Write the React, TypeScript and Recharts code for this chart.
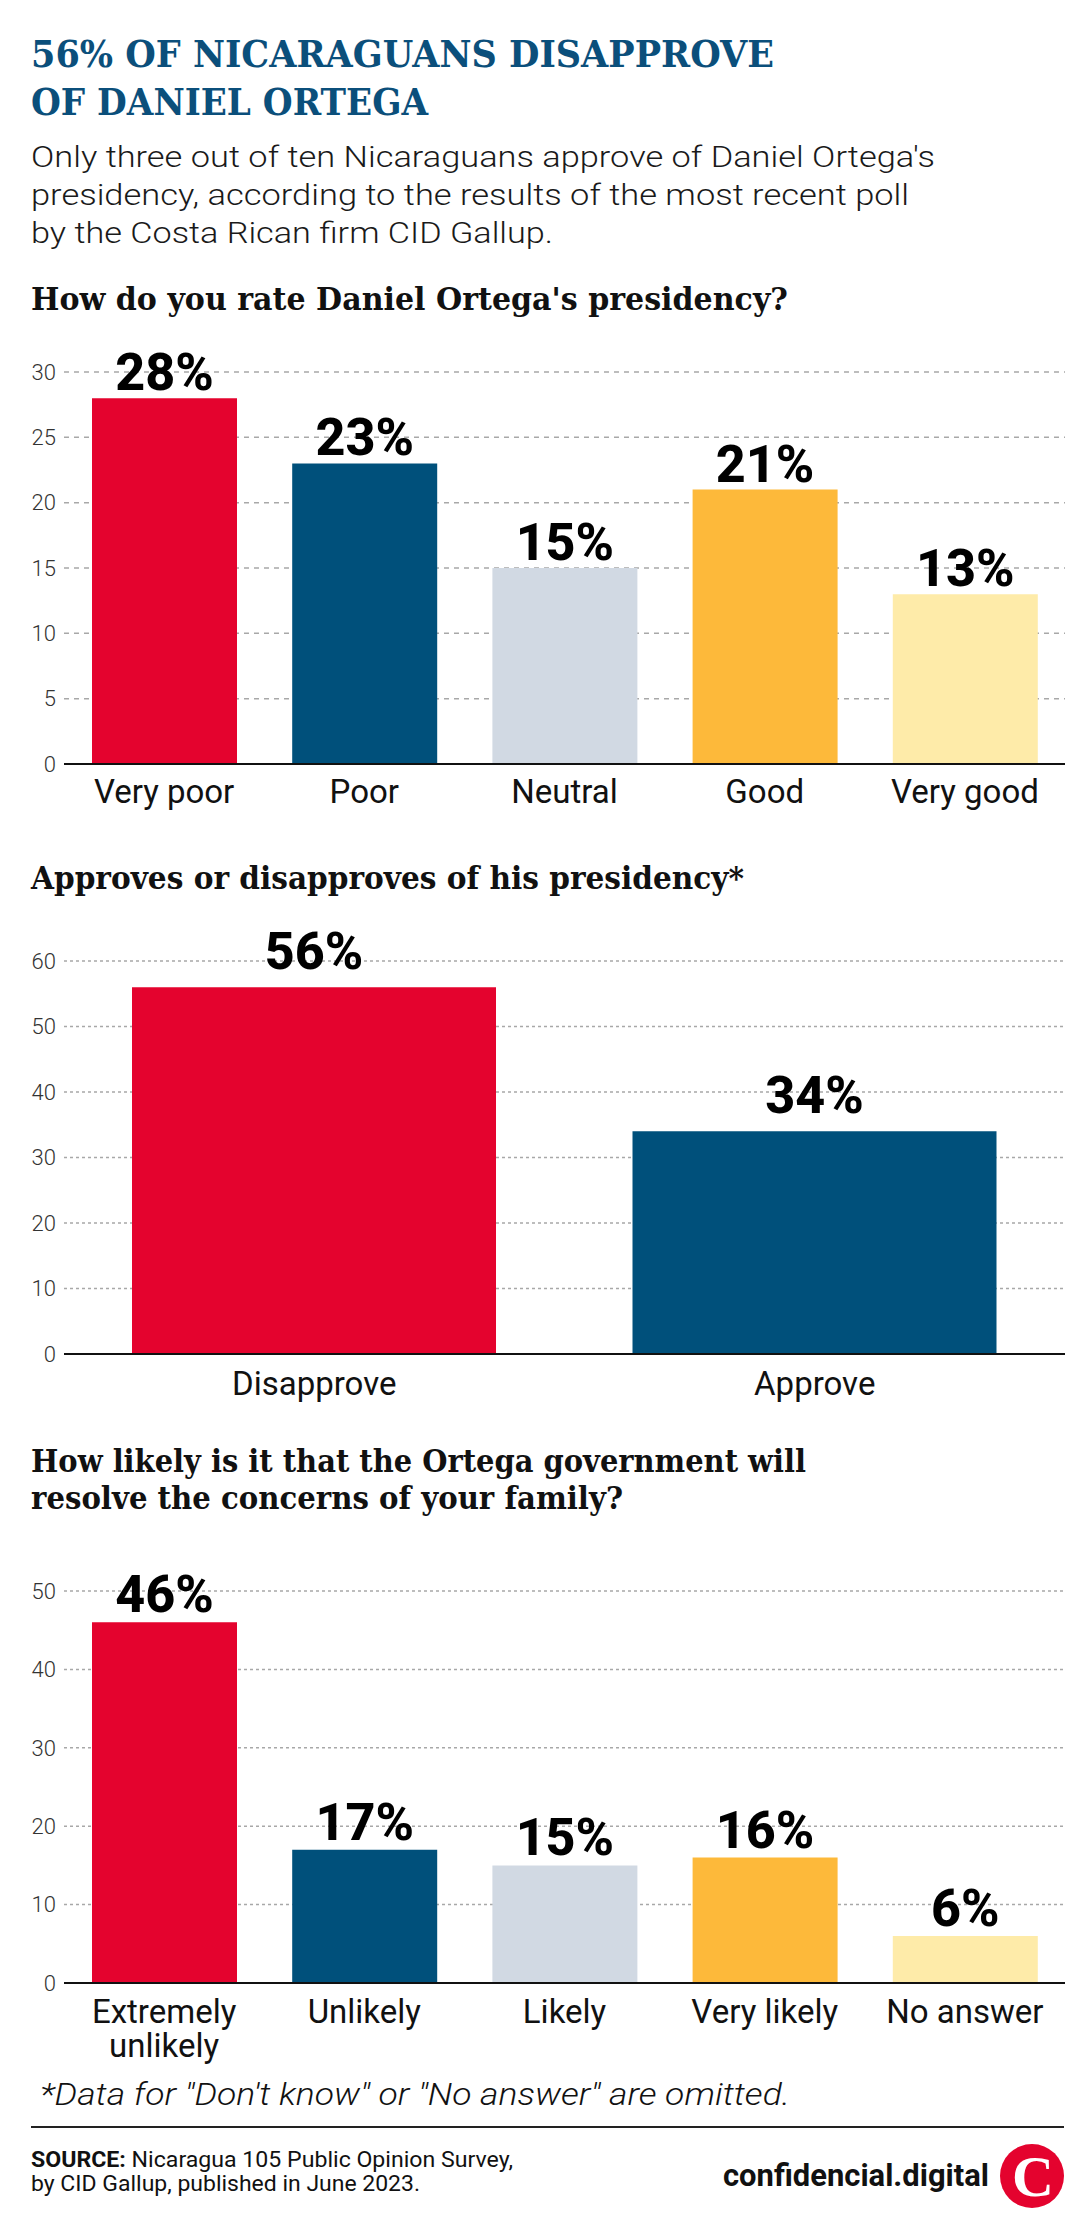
import { BarChart, Bar, XAxis, YAxis, CartesianGrid, Cell, LabelList } from 'recharts'

const RED = '#e4032e'
const NAVY = '#00507b'
const GREY = '#d1d9e3'
const ORANGE = '#fdb93a'
const PALE = '#feeba9'

// chart 1: How do you rate Daniel Ortega's presidency?
const rateCategories = ['Very poor', 'Poor', 'Neutral', 'Good', 'Very good']
const rateValues = [28, 23, 15, 21, 13]
const rateColors = [RED, NAVY, GREY, ORANGE, PALE]
const rateTicks = [0, 5, 10, 15, 20, 25, 30]

// chart 2: approves or disapproves
const approveCategories = ['Disapprove', 'Approve']
const approveValues = [56, 34]
const approveColors = [RED, NAVY]
const approveTicks = [0, 10, 20, 30, 40, 50, 60]

// chart 3: likelihood of resolving family concerns
const likelyCategories = ['Extremely unlikely', 'Unlikely', 'Likely', 'Very likely', 'No answer']
const likelyValues = [46, 17, 15, 16, 6]
const likelyColors = [RED, NAVY, GREY, ORANGE, PALE]
const likelyTicks = [0, 10, 20, 30, 40, 50]

const SANS = 'Roboto, "Noto Sans", sans-serif'
const SERIF = '"DejaVu Serif", serif'

function XTick(props: any) {
  const { x, y, payload, dy } = props
  const label: string = payload.value
  const lines = label.length > 12 ? label.split(' ') : [label]
  return (
    <text x={x} y={y} textAnchor="middle" fontFamily={SANS} fontSize={33} fill="#111">
      {lines.map((l, i) => (
        <tspan key={i} x={x} dy={i === 0 ? dy : 34}>
          {l}
        </tspan>
      ))}
    </text>
  )
}

function PctLabel(props: any) {
  const { x, y, width, value, gap } = props
  return (
    <text
      x={x + width / 2}
      y={y - gap}
      textAnchor="middle"
      fontFamily={SANS}
      fontWeight={800}
      fontSize={52}
      fill="#000"
    >
      {value}%
    </text>
  )
}

type PanelProps = {
  top: number
  height: number
  marginTop: number
  xHeight: number
  categories: string[]
  values: number[]
  colors: string[]
  ticks: number[]
  barSize: number
  dash: string
  labelGap: number
  tickDy: number
}

function Panel(p: PanelProps) {
  const data = p.categories.map((name, i) => ({ name, value: p.values[i] }))
  const max = p.ticks[p.ticks.length - 1]
  return (
    <div style={{ position: 'absolute', left: 0, top: p.top }}>
      <BarChart
        width={1080}
        height={p.height}
        data={data}
        margin={{ top: p.marginTop, right: 15, left: 0, bottom: 0 }}
      >
        <CartesianGrid vertical={false} stroke="#a8a8a8" strokeWidth={1.5} strokeDasharray={p.dash} />
        <YAxis
          width={64}
          domain={[0, max]}
          ticks={p.ticks}
          interval={0}
          axisLine={false}
          tickLine={false}
          tick={{ fontSize: 22, fill: '#333', fontFamily: SANS, fontWeight: 300 }}
        />
        <XAxis
          dataKey="name"
          height={p.xHeight}
          axisLine={{ stroke: '#111', strokeWidth: 2 }}
          tickLine={false}
          interval={0}
          tick={<XTick dy={p.tickDy} />}
        />
        <Bar dataKey="value" barSize={p.barSize} isAnimationActive={false}>
          {data.map((d, i) => (
            <Cell key={d.name} fill={p.colors[i]} />
          ))}
          <LabelList dataKey="value" content={<PctLabel gap={p.labelGap} />} />
        </Bar>
      </BarChart>
    </div>
  )
}

export default function App() {
  return (
    <div
      style={{
        position: 'absolute',
        left: 0,
        top: 0,
        width: 1080,
        height: 2223,
        background: '#fff',
        overflow: 'hidden',
      }}
    >
      <svg width={1080} height={2223} style={{ position: 'absolute', left: 0, top: 0 }}>
        <g fontFamily={SERIF} fontWeight={700} fontSize={37} fill="#0b4f7b">
          <text x={31} y={67} textLength={743} lengthAdjust="spacingAndGlyphs">
            56% OF NICARAGUANS DISAPPROVE
          </text>
          <text x={31} y={115} textLength={397} lengthAdjust="spacingAndGlyphs">
            OF DANIEL ORTEGA
          </text>
        </g>
        <g fontFamily={SANS} fontWeight={300} fontSize={30} fill="#1a1a1a">
          <text x={31} y={167} textLength={904} lengthAdjust="spacingAndGlyphs">
            Only three out of ten Nicaraguans approve of Daniel Ortega's
          </text>
          <text x={31} y={205} textLength={878} lengthAdjust="spacingAndGlyphs">
            presidency, according to the results of the most recent poll
          </text>
          <text x={31} y={243} textLength={522} lengthAdjust="spacingAndGlyphs">
            by the Costa Rican firm CID Gallup.
          </text>
        </g>
        <g fontFamily={SERIF} fontWeight={700} fontSize={31} fill="#111">
          <text x={31} y={310} textLength={757} lengthAdjust="spacingAndGlyphs">
            How do you rate Daniel Ortega's presidency?
          </text>
          <text x={31} y={889} textLength={713} lengthAdjust="spacingAndGlyphs">
            Approves or disapproves of his presidency*
          </text>
          <text x={31} y={1472} textLength={775} lengthAdjust="spacingAndGlyphs">
            How likely is it that the Ortega government will
          </text>
          <text x={31} y={1509} textLength={592} lengthAdjust="spacingAndGlyphs">
            resolve the concerns of your family?
          </text>
        </g>
        <text
          x={40}
          y={2105}
          fontFamily={SANS}
          fontWeight={300}
          fontStyle="italic"
          fontSize={31}
          fill="#111"
          textLength={750}
          lengthAdjust="spacingAndGlyphs"
        >
          *Data for "Don't know" or "No answer" are omitted.
        </text>
        <line x1={31} x2={1064} y1={2127} y2={2127} stroke="#222" strokeWidth={2} />
        <g fontFamily={SANS} fontSize={22} fill="#111">
          <text x={31} y={2167} textLength={482} lengthAdjust="spacingAndGlyphs">
            <tspan fontWeight={700}>SOURCE:</tspan> Nicaragua 105 Public Opinion Survey,
          </text>
          <text x={31} y={2191} textLength={389} lengthAdjust="spacingAndGlyphs">
            by CID Gallup, published in June 2023.
          </text>
        </g>
        <text
          x={723}
          y={2186}
          fontFamily={SANS}
          fontWeight={700}
          fontSize={32}
          fill="#111"
          textLength={266}
          lengthAdjust="spacingAndGlyphs"
        >
          confidencial.digital
        </text>
        <circle cx={1032} cy={2176} r={32} fill={RED} />
        <text
          x={1033}
          y={2196}
          textAnchor="middle"
          fontFamily='"Liberation Serif", serif'
          fontWeight={700}
          fontSize={58}
          fill="#fff"
        >
          C
        </text>
      </svg>

      <Panel
        top={330}
        height={520}
        marginTop={42}
        xHeight={86}
        categories={rateCategories}
        values={rateValues}
        colors={rateColors}
        ticks={rateTicks}
        barSize={145}
        dash="5 5"
        labelGap={8}
        tickDy={31}
      />
      <Panel
        top={920}
        height={520}
        marginTop={41}
        xHeight={86}
        categories={approveCategories}
        values={approveValues}
        colors={approveColors}
        ticks={approveTicks}
        barSize={364}
        dash="3 3"
        labelGap={18}
        tickDy={33}
      />
      <Panel
        top={1545}
        height={538}
        marginTop={46}
        xHeight={100}
        categories={likelyCategories}
        values={likelyValues}
        colors={likelyColors}
        ticks={likelyTicks}
        barSize={145}
        dash="3 3"
        labelGap={10}
        tickDy={32}
      />
    </div>
  )
}
